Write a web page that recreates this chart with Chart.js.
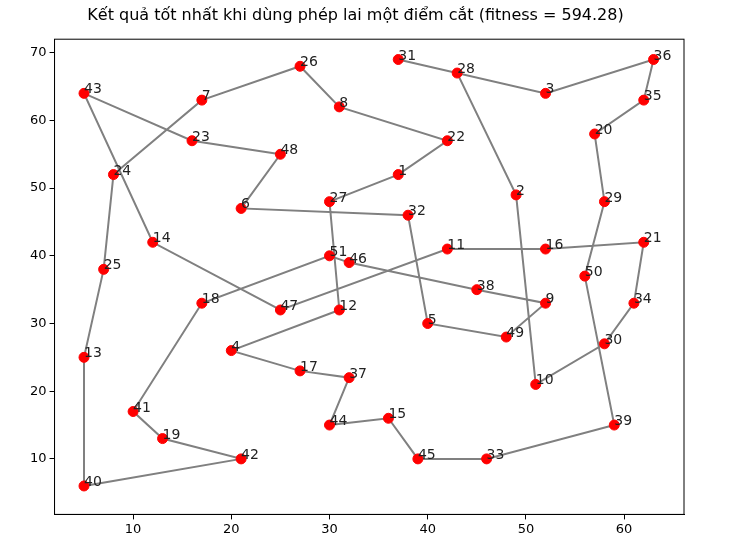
<!DOCTYPE html>
<html><head><meta charset="utf-8">
<script src="https://cdn.jsdelivr.net/npm/chart.js@4/dist/chart.umd.min.js"></script>
<style>body{margin:0;background:#fff}#w{width:734px;height:553px}</style>
</head><body><div id="w"><canvas id="c"></canvas></div>
<script>
const cityIds=[1,2,3,4,5,6,7,8,9,10,11,12,13,14,15,16,17,18,19,20,21,22,23,24,25,26,27,28,29,30,31,32,33,34,35,36,37,38,39,40,41,42,43,44,45,46,47,48,49,50,51];
const cityX=[37,49,52,20,40,21,17,31,52,51,42,31,5,12,36,52,27,17,13,57,62,42,16,8,7,27,30,43,58,58,37,38,46,61,62,63,32,45,59,5,10,21,5,30,39,32,25,25,48,56,30];
const cityY=[52,49,64,26,30,47,63,62,33,21,41,32,25,42,16,41,23,33,13,58,42,57,57,52,38,68,48,67,48,27,69,46,10,33,63,69,22,35,15,6,17,10,64,15,10,39,32,55,28,37,40];
const tour=[24,25,13,40,42,19,41,18,51,46,38,9,49,5,32,6,48,23,43,14,47,11,16,21,34,30,10,2,28,31,3,36,35,20,29,50,39,33,45,15,44,37,17,4,12,27,1,22,8,26,7,24];
const xTicks=[10,20,30,40,50,60];
const yTicks=[10,20,30,40,50,60,70];
const titleText='Kết quả tốt nhất khi dùng phép lai một điểm cắt (fitness = 594.28)';
const pts=cityIds.map((id,i)=>({x:cityX[i],y:cityY[i],id}));
const path=tour.map(id=>({x:cityX[id-1],y:cityY[id-1]}));
const labelPlugin={id:'lbl',afterDatasetsDraw(ch){const m=ch.getDatasetMeta(1);const c=ch.ctx;c.save();c.font='14px "DejaVu Sans"';c.fillStyle='#222';c.textBaseline='alphabetic';m.data.forEach((e,i)=>{c.fillText(String(pts[i].id),e.x,e.y);});c.restore();}};
const frame={id:'frame',afterDraw(ch){const a=ch.chartArea,c=ch.ctx;c.save();c.strokeStyle='#000';c.lineWidth=1;c.strokeRect(a.left,a.top,a.right-a.left,a.bottom-a.top);c.restore();}};
const grid={display:true,drawOnChartArea:false,drawTicks:true,tickLength:5,color:'#000'};
new Chart(document.getElementById('c'),{type:'scatter',
data:{datasets:[
{data:path,showLine:true,borderColor:'#808080',borderWidth:2,pointRadius:0,order:2},
{data:pts,backgroundColor:'#ff0000',borderColor:'#ff0000',pointRadius:5,order:1}]},
options:{responsive:true,maintainAspectRatio:false,animation:false,
layout:{padding:{left:27,right:50,top:2,bottom:14}},
plugins:{legend:{display:false},tooltip:{enabled:false},
title:{display:true,text:titleText,color:'#000',font:{family:'DejaVu Sans',size:16,weight:'normal'},padding:{top:4,bottom:14}}},
scales:{
x:{min:2,max:66.1,grid:grid,border:{color:'#000'},
 afterBuildTicks(a){a.ticks=xTicks.map(v=>({value:v}));},
 ticks:{color:'#000',font:{family:'DejaVu Sans',size:13},maxRotation:0,padding:2}},
y:{min:1.8,max:72,grid:grid,border:{color:'#000'},
 afterBuildTicks(a){a.ticks=yTicks.map(v=>({value:v}));},
 ticks:{color:'#000',font:{family:'DejaVu Sans',size:13},padding:3}}}},
plugins:[labelPlugin,frame]});
</script></body></html>
